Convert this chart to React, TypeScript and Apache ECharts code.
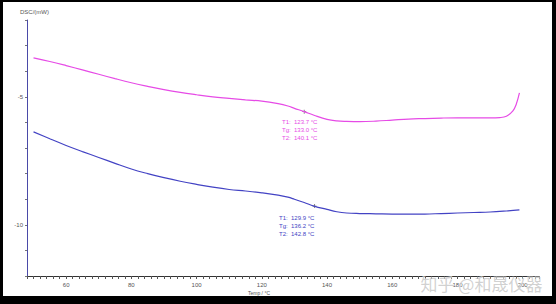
import React, { useEffect, useRef } from "react";
import * as echarts from "echarts";

const temps = [50, 55, 60, 65, 70, 75, 80, 85, 90, 95, 100, 105, 110, 115, 120, 125, 128, 130, 133, 136, 140, 143, 146, 150, 155, 160, 165, 170, 175, 180, 185, 190, 193, 195, 197, 198, 199];
const magentaCurve = [-3.48, -3.62, -3.78, -3.95, -4.12, -4.29, -4.45, -4.59, -4.72, -4.83, -4.92, -5.0, -5.06, -5.12, -5.17, -5.27, -5.36, -5.45, -5.58, -5.72, -5.88, -5.94, -5.96, -5.97, -5.95, -5.91, -5.87, -5.85, -5.83, -5.82, -5.82, -5.82, -5.81, -5.76, -5.55, -5.3, -4.85];
const blueTemps = [50, 55, 60, 65, 70, 75, 80, 85, 90, 95, 100, 105, 110, 115, 120, 125, 128, 130, 133, 136, 140, 143, 146, 150, 155, 160, 165, 170, 175, 180, 185, 190, 195, 199];
const blueCurve = [-6.37, -6.64, -6.9, -7.14, -7.37, -7.6, -7.82, -8.0, -8.16, -8.3, -8.42, -8.53, -8.62, -8.68, -8.75, -8.84, -8.92, -9.0, -9.13, -9.27, -9.4, -9.49, -9.54, -9.56, -9.57, -9.58, -9.58, -9.58, -9.56, -9.54, -9.52, -9.5, -9.46, -9.42];
const magentaTg: [number, number] = [133.0, -5.58];
const blueTg: [number, number] = [136.2, -9.27];
const magentaNotes = ["T1:  123.7 °C", "Tg:  133.0 °C", "T2:  140.1 °C"];
const blueNotes = ["T1:  129.9 °C", "Tg:  136.2 °C", "T2:  142.8 °C"];
const xLabels = [60, 80, 100, 120, 140, 160, 180, 200];
const yLabels = [-5, -10];

const MAG = "#e64be6";
const BLUE = "#4343c4";
const FONT = "Liberation Sans";

export default function App() {
  const ref = useRef<HTMLDivElement>(null);
  useEffect(() => {
    if (!ref.current) return;
    const chart = echarts.init(ref.current, null, { renderer: "svg" });
    const cross = "path://M4,0H6V4H10V6H6V10H4V6H0V4H4Z";
    const noteText = (lines: string[], x: number, y: number, color: string) =>
      lines.map((t, i) => ({
        type: "text",
        left: x,
        top: y + i * 8,
        style: { text: t, fill: color, font: `6px '${FONT}'` },
      }));
    chart.setOption({
      animation: false,
      backgroundColor: "#ffffff",
      grid: { left: 24, right: 13, top: 18, bottom: 20 },
      xAxis: {
        type: "value",
        min: 48,
        max: 205,
        interval: 2,
        axisLine: { lineStyle: { color: "#333", width: 1 } },
        axisTick: { length: 3, lineStyle: { color: "#555" } },
        splitLine: { show: false },
        axisLabel: {
          fontSize: 6,
          fontFamily: FONT,
          color: "#555",
          margin: 6,
          formatter: (v: number) => (xLabels.includes(v) ? String(v) : ""),
        },
      },
      yAxis: {
        type: "value",
        min: -12,
        max: -2,
        interval: 1,
        axisLine: { show: true, lineStyle: { color: "#4a4aa8", width: 1 } },
        axisTick: { show: true, length: 2, lineStyle: { color: "#777" } },
        splitLine: { show: false },
        axisLabel: {
          fontSize: 6,
          fontFamily: FONT,
          color: "#555",
          margin: 4,
          formatter: (v: number) => (yLabels.includes(v) ? String(v) : ""),
        },
      },
      series: [
        {
          type: "line",
          data: temps.map((t, i) => [t, magentaCurve[i]]),
          smooth: 0.4,
          showSymbol: false,
          lineStyle: { color: MAG, width: 1.2 },
        },
        {
          type: "line",
          data: blueTemps.map((t, i) => [t, blueCurve[i]]),
          smooth: 0.4,
          showSymbol: false,
          lineStyle: { color: BLUE, width: 1.2 },
        },
        {
          type: "scatter",
          data: [magentaTg, blueTg],
          symbol: cross,
          symbolSize: 4,
          itemStyle: { color: "#444" },
        },
      ],
      graphic: [
        { type: "text", left: 17, top: 7, style: { text: "DSC/(mW)", fill: "#555", font: `6px '${FONT}'` } },
        { type: "text", left: 245, top: 288, style: { text: "Temp / °C", fill: "#555", font: `5px '${FONT}'` } },
        ...noteText(magentaNotes, 279, 117, MAG),
        ...noteText(blueNotes, 276, 213, BLUE),
        {
          type: "text",
          left: 417,
          top: 272,
          z: 100,
          style: {
            text: "知乎 @和晟仪器",
            fill: "rgba(170,170,170,0.55)",
            stroke: "rgba(255,255,255,0.6)",
            lineWidth: 1,
            font: `17px 'Noto Sans CJK SC'`,
          },
        },
      ],
    });
    return () => chart.dispose();
  }, []);
  return (
    <div style={{ position: "fixed", left: 0, top: 0, width: 556, height: 304, background: "#000" }}>
      <div ref={ref} style={{ position: "absolute", left: 3, top: 2, width: 549, height: 294 }} />
    </div>
  );
}
